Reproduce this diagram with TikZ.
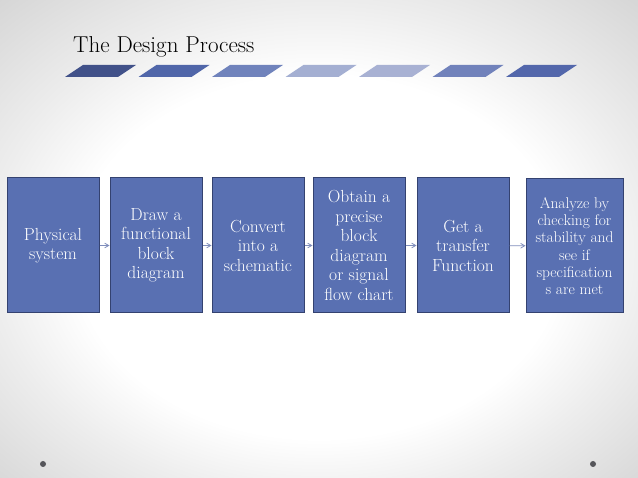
\documentclass[tikz,border=0pt]{standalone}
\usepackage{fontspec}
\usepackage{tikz}
\usetikzlibrary{calc}
\usetikzlibrary{arrows}
\usetikzlibrary{positioning}
\definecolor{boxfill}{RGB}{89,112,178}
\definecolor{boxline}{RGB}{52,66,112}
\definecolor{flowcol}{RGB}{128,142,188}
\definecolor{dotcol}{RGB}{85,85,90}
\definecolor{barA}{RGB}{65,81,137}
\definecolor{barB}{RGB}{80,102,169}
\definecolor{barC}{RGB}{112,131,188}
\definecolor{barD}{RGB}{164,175,210}
\definecolor{barE}{RGB}{168,177,211}
\definecolor{barF}{RGB}{113,130,187}
\definecolor{barG}{RGB}{83,103,171}
\pgfdeclareradialshading{slideback}{\pgfpoint{0bp}{-3bp}}{color(0bp)=(white); color(19bp)=(white); color(26bp)=(black!7); color(36bp)=(black!16); color(50bp)=(black!16)}
\tikzset{Block/.style={rectangle,fill=boxfill,draw=boxline,line width=1pt,minimum width=92pt,minimum height=135pt,inner sep=0pt,text=white,align=center,font=\fontsize{17.5}{19.5}\selectfont}}
\tikzset{Flow/.style={->,>=angle 60,draw=flowcol,line width=0.8pt}}

\begin{document}
\begin{tikzpicture}[x=1pt,y=-1pt]

\useasboundingbox (0,0) rectangle (638,478);
\shade[shading=slideback] (0,0) rectangle (638,478);

\node[anchor=base west,inner sep=0pt,font=\fontsize{23}{27}\selectfont] (T) at (73,53) {The Design Process};
\foreach \i/\c in {0/barA, 1/barB, 2/barC, 3/barD, 4/barE, 5/barF, 6/barG}
  {
 \pgfmathsetmacro{\x}{65+73.5*\i}
 \fill[\c] (\x,77) -- (\x+18,65) -- (\x+71,65) -- (\x+53,77) -- cycle;
 }

\node[Block] (B1) at (53,245.5) {Physical\\system};
\node[Block] (B2) at (156,245.5) {Draw a\\functional\\block\\diagram};
\node[Block] (B3) at (258,245.5) {Convert\\into a\\schematic};
\node[Block] (B4) at (359,245.5) {Obtain a\\precise\\block\\diagram\\or signal\\flow chart};
\node[Block] (B5) at (463,245.5) {Get a\\transfer\\Function};
\node[Block,minimum width=97pt,minimum height=134pt,font=\fontsize{15.5}{17.3}\selectfont] (B6) at (574.5,246) {Analyze by\\checking for\\stability and\\see if\\specification\\s are met};

\foreach \a/\b in {B1/B2, B2/B3, B3/B4, B4/B5, B5/B6}
  \draw[Flow] (\a) -- (\b);

\fill[dotcol] (43,464) circle (3pt);
\fill[dotcol] (593,464) circle (3pt);

\end{tikzpicture}
\end{document}
